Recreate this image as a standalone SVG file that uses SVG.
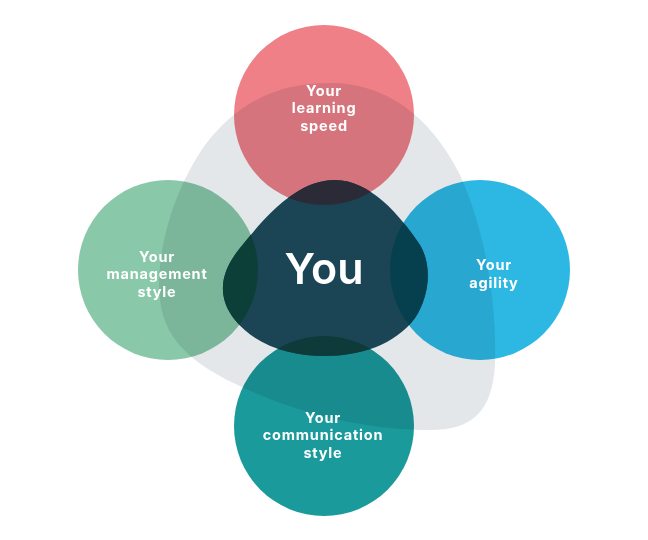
<svg xmlns="http://www.w3.org/2000/svg" width="648" height="540" viewBox="0 0 648 540">
<defs>
<style>
.c{mix-blend-mode:multiply}
.lbl{font-family:Inter,"Liberation Sans",sans-serif;font-weight:700;font-size:14.5px;letter-spacing:0.8px;fill:#fff;text-anchor:middle}
.you{font-family:Inter,"Liberation Sans",sans-serif;font-weight:600;font-size:43px;fill:#fff;text-anchor:middle}
</style>
<path id="blobPath" d="M 335 180 C 370 180, 400 215, 420 245 C 432 265, 430 295, 415 318 C 395 345, 360 356, 325 356 C 290 356, 255 345, 235 320 C 215 295, 222 270, 240 248 C 270 210, 300 180, 335 180 Z"/>
<clipPath id="blobClip"><use href="#blobPath"/></clipPath>
</defs>
<rect width="648" height="540" fill="#fff"/>
<g id="background-shape">
<path d="M 330 83 C 280 83, 240 100, 205 145 C 170 195, 155 260, 160 300 C 165 345, 200 370, 260 395 C 320 420, 380 430, 430 430 C 472 430, 492 412, 495 365 C 497 300, 485 230, 460 175 C 430 115, 385 83, 330 83 Z" fill="#e4e7ea"/>
</g>
<g id="connectors"></g>
<g id="node-learning">
<circle class="c" cx="324" cy="115" r="90" fill="#ef8087"/>
<text class="lbl" x="324" y="95.5">Your</text>
<text class="lbl" x="324" y="113.1">learning</text>
<text class="lbl" x="324" y="130.7">speed</text>
</g>
<g id="node-management">
<circle class="c" cx="168" cy="270" r="90" fill="#89c8a8"/>
<text class="lbl" x="157" y="261.5">Your</text>
<text class="lbl" x="157" y="279.1">management</text>
<text class="lbl" x="157" y="296.7">style</text>
</g>
<g id="node-agility">
<circle class="c" cx="480" cy="270" r="90" fill="#2cb8e3"/>
<text class="lbl" x="494" y="270">Your</text>
<text class="lbl" x="494" y="287.6">agility</text>
</g>
<g id="node-communication">
<circle class="c" cx="324" cy="426" r="90" fill="#1a9a9b"/>
<text class="lbl" x="323" y="422.5">Your</text>
<text class="lbl" x="323" y="440.1">communication</text>
<text class="lbl" x="323" y="457.7">style</text>
</g>
<g id="node-you">
<use href="#blobPath" fill="#1b4555"/>
<g clip-path="url(#blobClip)">
<circle cx="324" cy="115" r="90" fill="#2b2b38"/>
<circle cx="168" cy="270" r="90" fill="#0c3f38"/>
<circle cx="480" cy="270" r="90" fill="#06404f"/>
<circle cx="324" cy="426" r="90" fill="#0e3a3a"/>
</g>
<text class="you" x="324" y="284">You</text>
</g>
</svg>
